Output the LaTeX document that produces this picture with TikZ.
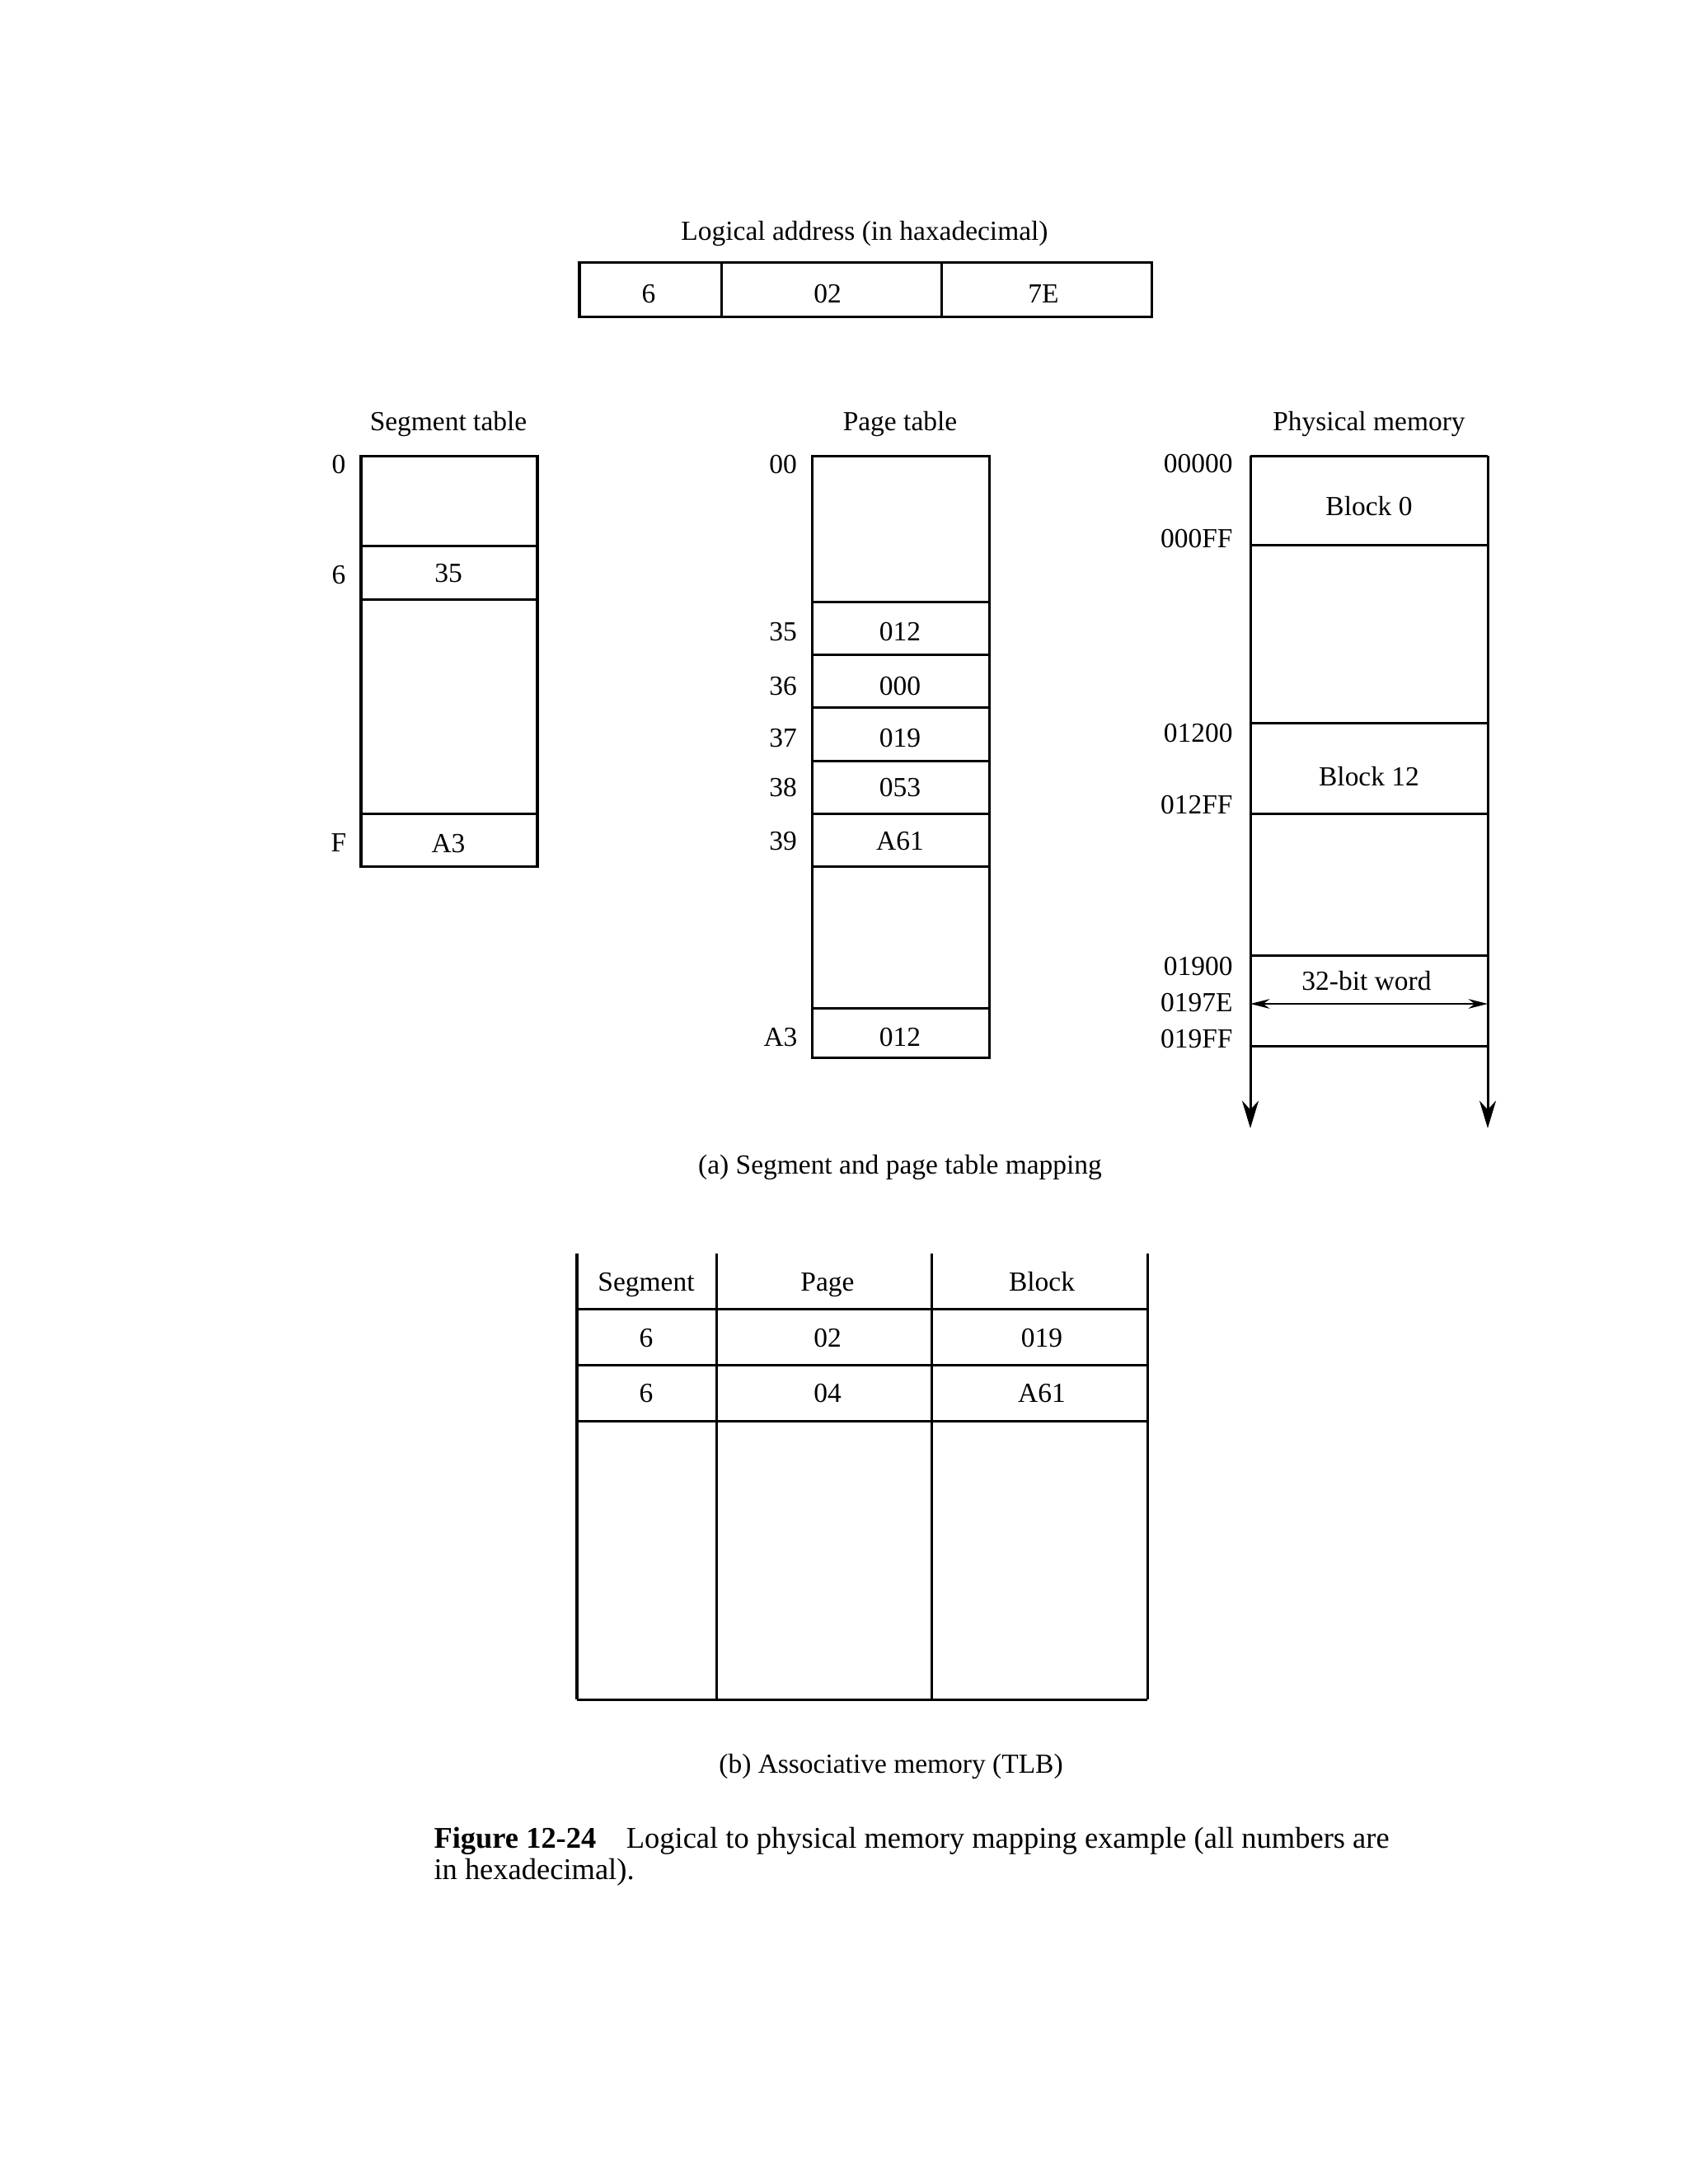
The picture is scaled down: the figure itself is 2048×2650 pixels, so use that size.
\documentclass[tikz,border=0pt]{standalone}
\usepackage{fontspec}
\setmainfont{Liberation Serif}
\usetikzlibrary{arrows.meta}
\begin{document}
\begin{tikzpicture}[x=0.29883pt,y=-0.29883pt,line width=0.9pt,
  lbl/.style={font=\fontsize{10}{12}\selectfont,inner sep=0pt,text height=1.55ex,text depth=0.25ex},
  figcaption/.style={font=\fontsize{10.9}{13}\selectfont,inner sep=0pt,anchor=base west},
  memarrow/.style={-{Stealth[length=10pt,width=6pt]}},
  wordarrow/.style={line width=0.6pt,{Stealth[length=7pt,width=3.5pt]}-{Stealth[length=7pt,width=3.5pt]}}]
\useasboundingbox[fill=white] (0,0) rectangle (2048,2650);

% ---- logical address ----
\node[lbl] (latitle) at (1049,282) {Logical address (in haxadecimal)};
\draw (703,318) rectangle (1397,384);
\draw (875,318) -- (875,384) (1142,318) -- (1142,384);
\node[lbl] (la1) at (787,357) {6};
\node[lbl] (la2) at (1004,357) {02};
\node[lbl] (la3) at (1266,357) {7E};

% ---- segment table ----
\node[lbl] (sttitle) at (544,512) {Segment table};
\draw (438,553) rectangle (652,1051);
\draw (438,662) -- (652,662) (438,727) -- (652,727) (438,987) -- (652,987);
\node[lbl] (st0) at (411,564) {0};
\node[lbl] (st6) at (411,698) {6};
\node[lbl] (stF) at (411,1023) {F};
\node[lbl] (stv6) at (544,696) {35};
\node[lbl] (stvF) at (544,1024) {A3};

% ---- page table ----
\node[lbl] (pttitle) at (1092,512) {Page table};
\draw (985,553) rectangle (1200,1283);
\foreach \yy in {730,794,858,923,987,1051,1223}{\draw (985,\yy) -- (1200,\yy);}
\node[lbl] (pt00) at (950,564) {00};
\node[lbl] (pt35) at (950,767) {35};
\node[lbl] (pt36) at (950,833) {36};
\node[lbl] (pt37) at (950,896) {37};
\node[lbl] (pt38) at (950,956) {38};
\node[lbl] (pt39) at (950,1021) {39};
\node[lbl] (ptA3) at (947,1259) {A3};
\node[lbl] (ptv35) at (1092,767) {012};
\node[lbl] (ptv36) at (1092,833) {000};
\node[lbl] (ptv37) at (1092,896) {019};
\node[lbl] (ptv38) at (1092,956) {053};
\node[lbl] (ptv39) at (1092,1021) {A61};
\node[lbl] (ptvA3) at (1092,1259) {012};

% ---- physical memory ----
\node[lbl] (pmtitle) at (1661,512) {Physical memory};
\coordinate (pmtl) at (1517,553);
\coordinate (pmtr) at (1805,553);
\coordinate (pmbl) at (1517,1369);
\coordinate (pmbr) at (1805,1369);
\draw (pmtl) -- (pmtr);
\draw[memarrow] (pmtl) -- (pmbl);
\draw[memarrow] (pmtr) -- (pmbr);
\foreach \yy in {661,877,987,1159,1269}{\draw (1517,\yy) -- (1805,\yy);}
\coordinate (wl) at (1517,1218);
\coordinate (wr) at (1805,1218);
\draw[wordarrow] (wl) -- (wr);
\node[lbl,anchor=east] (a0) at (1497,563) {00000};
\node[lbl,anchor=east] (a1) at (1497,654) {000FF};
\node[lbl,anchor=east] (a2) at (1497,890) {01200};
\node[lbl,anchor=east] (a3) at (1497,977) {012FF};
\node[lbl,anchor=east] (a4) at (1497,1173) {01900};
\node[lbl,anchor=east] (a5) at (1497,1217) {0197E};
\node[lbl,anchor=east] (a6) at (1497,1261) {019FF};
\node[lbl] (b0) at (1661,615) {Block 0};
\node[lbl] (b12) at (1661,943) {Block 12};
\node[lbl] (word) at (1658,1191) {32-bit word};

\node[lbl] (capa) at (1092,1414) {(a) Segment and page table mapping};

% ---- TLB ----
\foreach \xx in {700,869,1130,1392}{\draw (\xx,1521) -- (\xx,2062);}
\foreach \yy in {1588,1656,1724,2062}{\draw (700,\yy) -- (1392,\yy);}
\node[lbl] (h1) at (784,1556) {Segment};
\node[lbl] (h2) at (1004,1556) {Page};
\node[lbl] (h3) at (1264,1556) {Block};
\node[lbl] (r11) at (784,1624) {6};
\node[lbl] (r12) at (1004,1624) {02};
\node[lbl] (r13) at (1264,1624) {019};
\node[lbl] (r21) at (784,1691) {6};
\node[lbl] (r22) at (1004,1691) {04};
\node[lbl] (r23) at (1264,1691) {A61};

\node[lbl] (capb) at (1081,2141) {(b) Associative memory (TLB)};

% ---- figure caption ----
\node[figcaption] (fig1) at (525,2242) {\textbf{Figure 12-24}\quad Logical to physical memory mapping example (all numbers are};
\node[figcaption] (fig2) at (525,2280) {in hexadecimal).};
\end{tikzpicture}
\end{document}
